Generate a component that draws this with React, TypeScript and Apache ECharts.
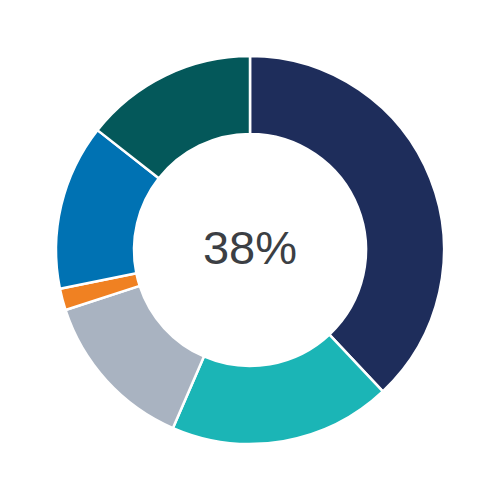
import React, { useEffect, useRef } from "react";
import * as echarts from "echarts";

const categories = ["A", "B", "C", "D", "E", "F"];
const values = [38, 18.5, 13.5, 1.8, 13.8, 14.4];
const colors = ["#1e2d5b", "#1bb5b6", "#a9b3c1", "#f08122", "#0072b3", "#04585a"];
const centerLabel = "38%";

export default function App() {
  const ref = useRef<HTMLDivElement>(null);
  useEffect(() => {
    if (!ref.current) return;
    const chart = echarts.init(ref.current, null, { renderer: "svg" });
    chart.setOption({
      animation: false,
      backgroundColor: "#ffffff",
      title: {
        text: centerLabel,
        left: "center",
        top: 219,
        textStyle: {
          fontFamily: "Liberation Sans, Arial, sans-serif",
          fontSize: 47,
          fontWeight: "normal",
          color: "#3c3f44",
        },
      },
      series: [
        {
          type: "pie",
          center: [250, 250],
          radius: [116, 194],
          startAngle: 90,
          clockwise: true,
          label: { show: false },
          labelLine: { show: false },
          itemStyle: { borderColor: "#ffffff", borderWidth: 2.5 },
          data: categories.map((c, i) => ({
            name: c,
            value: values[i],
            itemStyle: { color: colors[i] },
          })),
        },
      ],
    });
    return () => chart.dispose();
  }, []);
  return (
    <div
      ref={ref}
      style={{ position: "fixed", left: 0, top: 0, width: 500, height: 500 }}
    />
  );
}
